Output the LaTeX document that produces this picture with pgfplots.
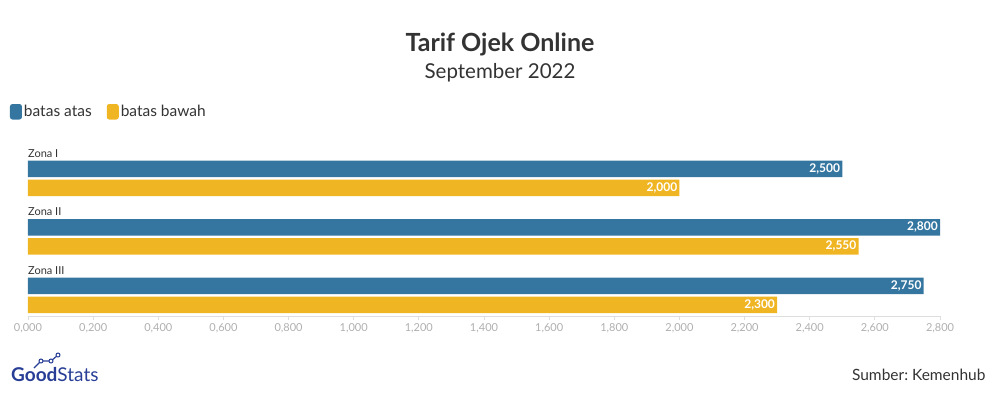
\documentclass[border=0pt]{standalone}
\usepackage{pgfplots}
\pgfplotsset{compat=1.18}
\usepackage{fontspec}
\setmainfont{Lato}
\frenchspacing

\definecolor{atas}{RGB}{53,118,160}
\definecolor{bawah}{RGB}{240,181,35}
\definecolor{txt}{RGB}{51,51,51}
\definecolor{tickgray}{RGB}{175,175,175}
\definecolor{axisgray}{RGB}{222,222,222}
\definecolor{gs}{RGB}{40,62,150}

\begin{document}
\begin{tikzpicture}
\path[use as bounding box] (0,0) rectangle (1000pt,-400pt);

% titles
\node[font=\bfseries\fontsize{25}{29}\selectfont, text=txt] at (500pt,-44pt) {Tarif Ojek Online};
\node[font=\fontsize{20.5}{24}\selectfont, text=txt] at (500pt,-73pt) {September 2022};
\node[anchor=east, font=\fontsize{15.5}{18}\selectfont, text=txt] at (989pt,-375pt) {Sumber: Kemenhub};

% logo
\node[anchor=west, inner sep=0pt, text=gs, font=\fontsize{19}{21}\selectfont] at (11pt,-375pt) {\textbf{Good}Stats};
\draw[gs, line width=1.2pt] (34pt,-368pt) -- (41pt,-361pt) -- (51pt,-361pt) -- (58pt,-355pt);
\foreach \p in {(41pt,-361pt),(51pt,-361pt),(58pt,-355pt)}
  \draw[gs, line width=1pt, fill=white] \p circle (2pt);

\begin{axis}[
  at={(28pt,-316pt)}, anchor=south west,
  scale only axis, width=912pt, height=170pt,
  clip=false,
  xbar, bar width=16.5pt,
  xmin=0, xmax=2800,
  ymin=-0.55, ymax=2.35, y dir=reverse,
  axis y line=none, axis x line*=bottom,
  x axis line style={draw=axisgray, line width=1pt},
  xtick={0,200,...,2800},
  xticklabels={{0,000},{0,200},{0,400},{0,600},{0,800},{1,000},{1,200},{1,400},{1,600},{1,800},{2,000},{2,200},{2,400},{2,600},{2,800}},
  xtick style={draw=axisgray, line width=0.8pt},
  tick align=outside, major tick length=4pt,
  xticklabel style={text=tickgray, font=\fontsize{11}{13}\selectfont},
  ytick=\empty,
  point meta=x,
  nodes near coords,
  nodes near coords style={anchor=east, text=white, inner sep=2pt,
    font=\bfseries\fontsize{12}{14}\selectfont},
  /pgf/number format/.cd, fixed, 1000 sep={{,}}, assume math mode=true,
  /pgfplots/.cd,
  legend columns=2,
  legend style={at={(axis description cs:-0.02,1.2)}, anchor=west,
    draw=none, fill=none, inner sep=0pt,
    font=\fontsize{15.5}{18}\selectfont, text=txt,
    /tikz/every even column/.append style={column sep=13pt}},
  legend cell align=left,
  legend image code/.code={\fill[#1, rounded corners=2.5pt] (0pt,-7.5pt) rectangle (12pt,8pt);},
]
\addplot[fill=atas, draw=none, bar shift=9.5pt] coordinates {(2500,0) (2800,1) (2750,2)};
\addlegendentry{batas atas}
\addplot[fill=bawah, draw=none, bar shift=-9.5pt] coordinates {(2000,0) (2550,1) (2300,2)};
\addlegendentry{batas bawah}

\node[anchor=west, inner sep=0pt, text=txt, font=\fontsize{11}{13}\selectfont, yshift=25pt] at (axis cs:0,0) {Zona I};
\node[anchor=west, inner sep=0pt, text=txt, font=\fontsize{11}{13}\selectfont, yshift=25pt] at (axis cs:0,1) {Zona II};
\node[anchor=west, inner sep=0pt, text=txt, font=\fontsize{11}{13}\selectfont, yshift=25pt] at (axis cs:0,2) {Zona III};
\end{axis}
\end{tikzpicture}
\end{document}
